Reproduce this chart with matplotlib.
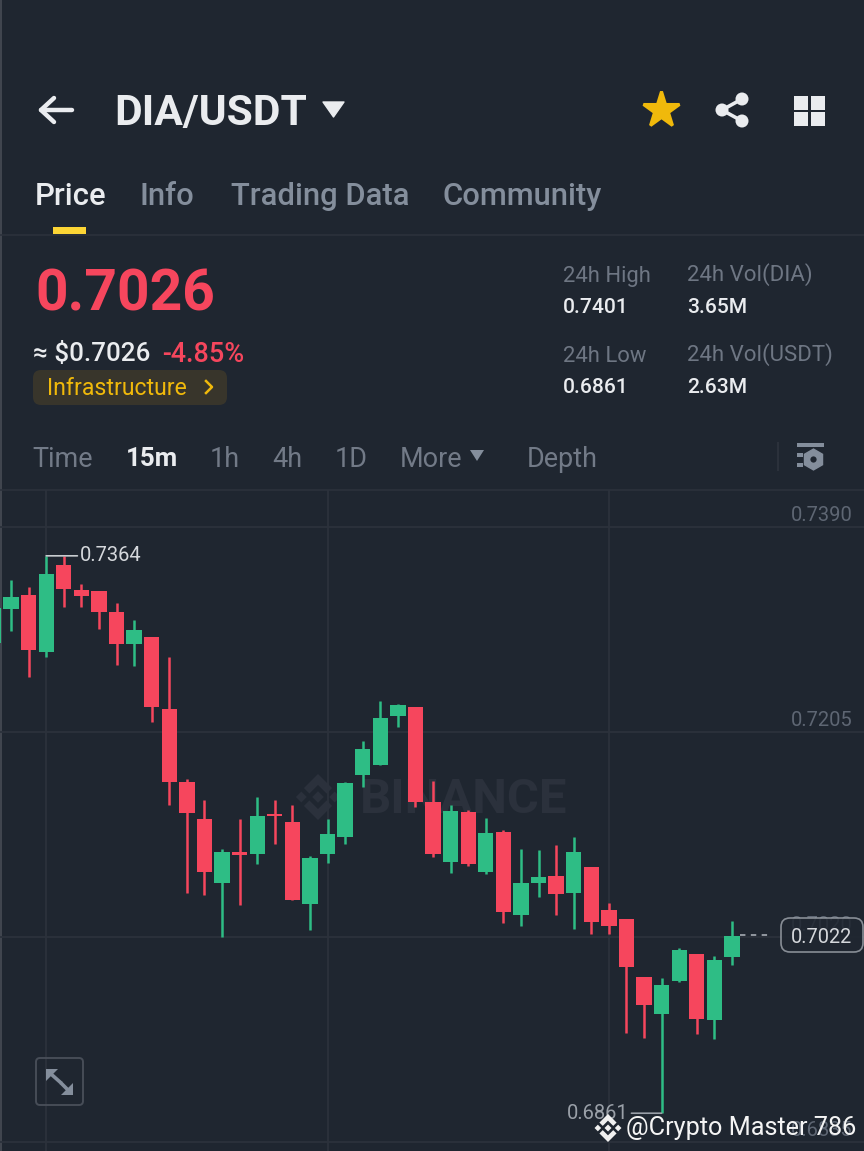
import matplotlib
matplotlib.use("Agg")
import numpy as np
import matplotlib.pyplot as plt
from matplotlib.patches import FancyBboxPatch, Polygon, Circle, Rectangle

plt.rcParams['font.family'] = ['Roboto', 'DejaVu Sans']

# candles, oldest first
opens = [0.72853, 0.73157, 0.73284, 0.72775, 0.73554, 0.73334, 0.73325, 0.73136, 0.72844, 0.72905,
         0.72258, 0.71599, 0.71268, 0.70687, 0.70967, 0.70949, 0.7131, 0.71238, 0.70495, 0.70949,
         0.71105, 0.71659, 0.71752, 0.72192, 0.72273, 0.71418, 0.7088, 0.71328, 0.70787, 0.71148,
         0.70399, 0.70687, 0.70753, 0.70597, 0.70835, 0.70444, 0.70365, 0.69842, 0.69505, 0.69803,
         0.70044, 0.69454, 0.70017]
closes = [0.73169, 0.73271, 0.72787, 0.73476, 0.73338, 0.73275, 0.73136, 0.72844, 0.72973, 0.72273,
          0.71602, 0.71319, 0.70787, 0.70964, 0.70937, 0.71295, 0.71289, 0.70537, 0.70916, 0.71127,
          0.71587, 0.71899, 0.72179, 0.72291, 0.71421, 0.70949, 0.7134, 0.70856, 0.71136, 0.70426,
          0.70685, 0.70744, 0.70588, 0.70967, 0.70336, 0.70297, 0.69927, 0.69584, 0.6977, 0.70083,
          0.69463, 0.6999, 0.70212]
highs = [0.73169, 0.73422, 0.73361, 0.7364, 0.7364, 0.73386, 0.73325, 0.73214, 0.73061, 0.72905,
         0.7273, 0.71623, 0.71436, 0.70997, 0.71268, 0.71466, 0.71436, 0.71394, 0.70928, 0.71268,
         0.71602, 0.71969, 0.7233, 0.72303, 0.72273, 0.71608, 0.71391, 0.71346, 0.71277, 0.71166,
         0.70997, 0.70988, 0.71033, 0.71105, 0.70835, 0.70504, 0.70365, 0.69842, 0.69833, 0.70104,
         0.70044, 0.70031, 0.70345]
lows = [0.72853, 0.72964, 0.72549, 0.72724, 0.73175, 0.73175, 0.72982, 0.72652, 0.72646, 0.72143,
        0.71391, 0.70594, 0.70576, 0.70197, 0.70486, 0.70856, 0.71037, 0.70537, 0.70263, 0.70868,
        0.71037, 0.71551, 0.71752, 0.72098, 0.7137, 0.70925, 0.70775, 0.70841, 0.70766, 0.70324,
        0.70302, 0.70558, 0.70396, 0.70275, 0.70224, 0.70224, 0.69331, 0.69291, 0.6861, 0.69791,
        0.69322, 0.69282, 0.69945]
first_candle = -1
price_ticks = [0.7390, 0.7205, 0.7020, 0.6835]
time_grid = [2, 18, 34]
last_price = 0.7022
high_price = 0.7364
low_price = 0.6861

W, H = 864, 1151
BG = '#1f2630'
RED = '#f6465d'
GREEN = '#2ebd85'
GREY = '#848e9c'
WHITE = '#eaecef'
GRID = '#2c323c'

fig = plt.figure(figsize=(W / 100, H / 100), dpi=100, facecolor=BG)


def pixel_axes(z):
    a = fig.add_axes([0, 0, 1, 1], zorder=z)
    a.set_xlim(0, W)
    a.set_ylim(H, 0)
    a.axis('off')
    a.patch.set_alpha(0)
    return a


back = pixel_axes(0)
top = pixel_axes(2)

# price chart, same pixels as the screenshot from y=490 down
ax = fig.add_axes([0, 0, 1, (H - 490) / H], zorder=1)
ax.patch.set_alpha(0)
ax.set_xlim(-0.6255, 48.507)
ax.set_ylim(0.68269, 0.74234)
for s in ax.spines.values():
    s.set_visible(False)
ax.set_xticks([])
ax.set_yticks([])

for p in price_ticks:
    ax.axhline(p, color=GRID, lw=1.3, zorder=1)
    ax.annotate('%.4f' % p, (1, p), xycoords=('axes fraction', 'data'), xytext=(-11, 12),
                textcoords='offset pixels', ha='right', va='center', fontsize=14.5,
                color='#5e6673', zorder=1, annotation_clip=False)
for t in time_grid:
    ax.axvline(t, color=GRID, lw=1.3, zorder=1)

x = np.arange(len(opens)) + first_candle
opens_a, closes_a = np.array(opens), np.array(closes)
colors = [GREEN if c >= o else RED for o, c in zip(opens, closes)]
ax.vlines(x, lows, highs, colors=colors, lw=1.8, zorder=3)
ax.bar(x, np.abs(closes_a - opens_a), bottom=np.minimum(opens_a, closes_a), width=0.87,
       color=colors, zorder=4)

# high / low markers
hi_i = x[int(np.argmax(highs))]
lo_i = x[int(np.argmin(lows))]
ax.annotate('0.7364', (hi_i, high_price), xytext=(34, 0), textcoords='offset pixels',
            ha='left', va='center', fontsize=14.5, color='#d5d8dc', zorder=5,
            arrowprops=dict(arrowstyle='-', color='#c8ccd0', lw=1.2, shrinkA=0, shrinkB=0))
ax.annotate('0.6861', (lo_i, low_price), xytext=(-33, 0), textcoords='offset pixels',
            ha='right', va='center', fontsize=14.5, color='#9aa0a8', zorder=5,
            arrowprops=dict(arrowstyle='-', color='#9aa0a8', lw=1.2, shrinkA=0, shrinkB=0))
# last price dashed stub
ax.plot([x[-1] + 0.45, 43.27], [last_price, last_price], color='#9aa0a8', lw=1.3,
        dashes=(3, 3), zorder=2)


def txt(a, px, py, s, size, color, weight='normal', ha='left', **kw):
    return a.text(px, py, s, fontsize=size * 0.72, color=color, fontweight=weight,
                  ha=ha, va='center', **kw)


def binance_logo(a, cx, cy, r, color, z=1):
    # small diamonds plus the two chevrons of the exchange logo
    u = r / 4.0
    def diamond(dx, dy, k):
        return Polygon([(cx + dx, cy + dy - k), (cx + dx + k, cy + dy),
                        (cx + dx, cy + dy + k), (cx + dx - k, cy + dy)], color=color, lw=0, zorder=z)
    a.add_patch(diamond(0, 0, u))
    a.add_patch(diamond(-2.9 * u, 0, u * 0.95))
    a.add_patch(diamond(2.9 * u, 0, u * 0.95))
    for sg in (-1, 1):
        pts = [(0, 4), (2.45, 1.55), (1.5, 0.6), (0, 2.1), (-1.5, 0.6), (-2.45, 1.55)]
        a.add_patch(Polygon([(cx + u * p, cy + sg * u * q) for p, q in pts], color=color, lw=0, zorder=z))


# watermark behind the candles
binance_logo(back, 318, 797, 23, '#2b313c')
txt(back, 360, 800, 'BINANCE', 49, '#2b313c', 'bold')

back.add_patch(Rectangle((0, 0), 1.5, H, color='#40454e', lw=0))

# header
top.plot([41, 72], [110, 110], color=WHITE, lw=3.2, solid_capstyle='round')
top.plot([54, 41, 54], [98, 110, 122], color=WHITE, lw=3.2, solid_capstyle='round', solid_joinstyle='round')
txt(top, 114, 113, 'DIA/USDT', 42.5, WHITE, 'bold')
top.add_patch(Polygon([(323, 102), (344, 102), (333.5, 117)], color=WHITE, ec=WHITE, lw=1, joinstyle='round'))
top.plot([661], [110], marker='*', ms=27, color='#f0b90b', mec='#f0b90b', mew=2.2)
for cx, cy in [(742, 99), (722, 110), (742, 121)]:
    top.add_patch(Circle((cx, cy), 6.5, color=WHITE, lw=0))
top.plot([742, 722, 742], [99, 110, 121], color=WHITE, lw=2.6)
for gx in (794, 811):
    for gy in (96, 112):
        top.add_patch(Rectangle((gx, gy), 13.5, 13.5, color=WHITE, lw=0))

# tabs
txt(top, 35, 196, 'Price', 31, WHITE, 500)
txt(top, 139, 196, 'Info', 31, GREY, 500)
txt(top, 231, 196, 'Trading Data', 31, GREY, 500)
txt(top, 443, 196, 'Community', 31, GREY, 500)
top.add_patch(Rectangle((53, 227), 33, 7, color='#fcd535', lw=0))
top.plot([0, W], [234.5, 234.5], color=GRID, lw=1.2)

# price block
txt(top, 35, 295, '0.7026', 57, RED, 'bold')
txt(top, 33, 354, '\u2248 $0.7026', 26, WHITE, 500)
txt(top, 162, 354, '-4.85%', 27, RED, 500)
top.add_patch(FancyBboxPatch((39, 376), 182, 23, boxstyle='round,pad=6,rounding_size=8',
                             fc='#38352b', ec='none'))
txt(top, 47, 388, 'Infrastructure', 23, '#f0b90b')
top.plot([206, 212, 206], [381, 387, 393], color='#f0b90b', lw=1.8)

# 24h stats
txt(top, 563, 276, '24h High', 22, '#6e7683')
txt(top, 563, 307, '0.7401', 21, WHITE, 500)
txt(top, 687, 275, '24h Vol(DIA)', 22.3, '#6e7683')
txt(top, 687, 307, '3.65M', 21, WHITE, 500)
txt(top, 563, 356, '24h Low', 22, '#6e7683')
txt(top, 563, 387, '0.6861', 21, WHITE, 500)
txt(top, 687, 355, '24h Vol(USDT)', 22.3, '#6e7683')
txt(top, 687, 387, '2.63M', 21, WHITE, 500)

# interval row
for px, s in [(32, 'Time'), (210, '1h'), (272, '4h'), (335, '1D'), (400, 'More'), (527, 'Depth')]:
    txt(top, px, 459, s, 27, '#727a87')
txt(top, 126, 459, '15m', 26, WHITE, 'bold')
top.add_patch(Polygon([(470, 450), (484, 450), (477, 461)], color=GREY, lw=0))
top.plot([777.5, 777.5], [443, 470], color=GRID, lw=1.4)
top.add_patch(Rectangle((797, 443), 27, 3.5, color=GREY, lw=0))
top.add_patch(Rectangle((797, 453), 6, 4, color=GREY, lw=0))
top.add_patch(Rectangle((797, 463), 6, 4, color=GREY, lw=0))
top.plot([813], [459], marker='h', ms=15, mfc=GREY, mec=GREY)
top.plot([813], [459], marker='o', ms=4.5, color=BG, mew=0)
top.plot([0, W], [490, 490], color=GRID, lw=1.2)

# current price box
top.add_patch(FancyBboxPatch((787, 924), 70, 22, boxstyle='round,pad=6,rounding_size=9',
                             fc=BG, ec='#9aa0a8', lw=1.2, alpha=0.85))
txt(top, 822, 937, '0.7022', 20, '#d5d8dc', ha='center')

# expand button
top.add_patch(FancyBboxPatch((39, 1061), 41, 41, boxstyle='round,pad=3,rounding_size=4',
                             fc='none', ec='#474d57', lw=1.4))
top.add_patch(Polygon([(46, 1069), (58, 1069), (46, 1081)], color=GREY, lw=0))
top.add_patch(Polygon([(73, 1095), (61, 1095), (73, 1083)], color=GREY, lw=0))
top.plot([51, 60], [1074, 1082], color=GREY, lw=2.6)
top.plot([68, 62], [1090, 1084], color=GREY, lw=2.6)

# repost credit
binance_logo(top, 608, 1128, 14, '#f0f0f0', z=6)
txt(top, 626, 1128, '@Crypto Master 786', 25.3, '#f4f4f4', zorder=6)

fig.savefig('out.png', dpi=100, facecolor=BG)
